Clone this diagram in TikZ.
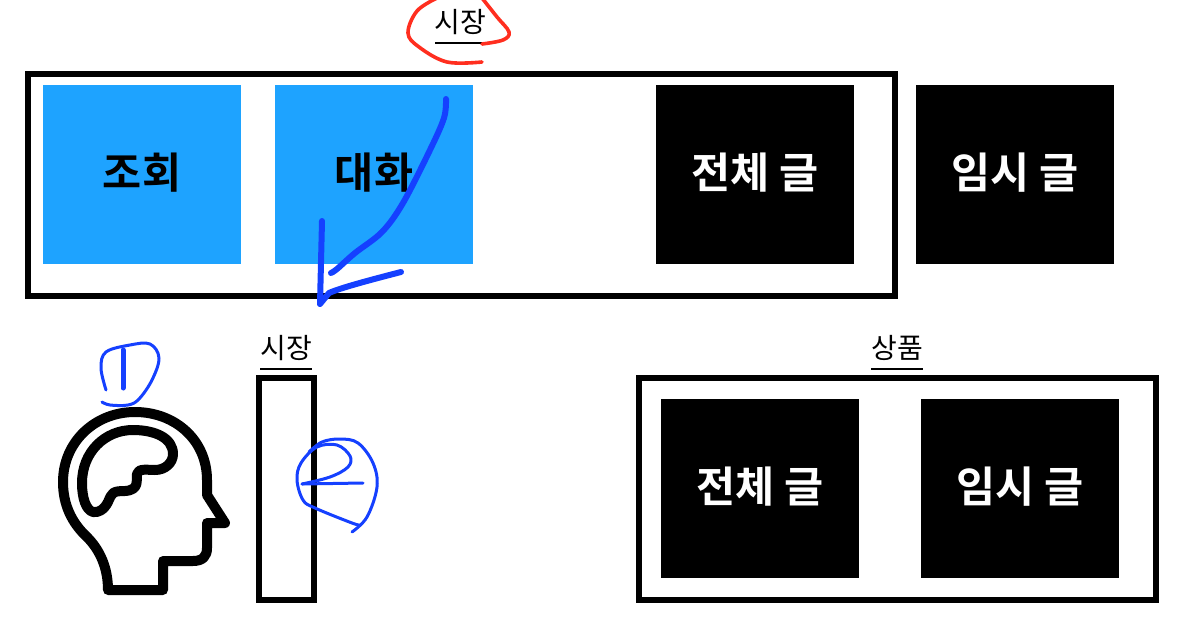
\documentclass[tikz,border=0pt]{standalone}
\usepackage{fontspec}
\newfontfamily\cjk[BoldFont={Noto Sans CJK KR Bold}]{Noto Sans CJK KR}
\definecolor{skyb}{HTML}{1EA3FF}
\definecolor{penblue}{HTML}{1540FF}
\definecolor{penred}{HTML}{FF2E1F}
\tikzset{
  frame/.style={draw=black,line width=6pt,fill=none},
  tile/.style={anchor=north west,inner sep=0pt,outer sep=0pt,minimum width=198pt,minimum height=179pt,align=center,text height=36pt,text depth=9pt},
  bluetile/.style={tile,fill=skyb,text=black},
  blacktile/.style={tile,fill=black,text=white},
  biglabel/.style={font=\cjk\bfseries\fontsize{42.5}{46}\selectfont},
  caption/.style={font=\cjk\fontsize{28}{32}\selectfont,inner sep=0pt,text=black},
  uline/.style={draw=black,line width=2pt},
  penthin/.style={draw=penblue,line width=3pt,line cap=round,line join=round},
  penthick/.style={draw=penblue,line width=6pt,line cap=round,line join=round},
  penr/.style={draw=penred,line width=3.6pt,line cap=round,line join=round},
  headline/.style={draw=black,line width=10pt,line cap=round,line join=round}
}
\begin{document}
\begin{tikzpicture}[x=1pt,y=-1pt]
\useasboundingbox (0,0) rectangle (1188,634);
\clip (0,0) rectangle (1188,634);
% top frame and tiles
\draw[frame] (28,74) rectangle (895,296);
\node[bluetile,biglabel] (jh) at (43,85) {조회};
\node[bluetile,biglabel] (dh) at (275,85) {대화};
\node[blacktile,biglabel] (all1) at (656,85) {전체 글};
\node[blacktile,biglabel] (tmp1) at (916,85) {임시 글};
% captions
\node[caption] (c1) at (460,22) {시장};
\draw[uline] (435,43) -- (486,43);
\node[caption] (c2) at (286,348) {시장};
\draw[uline] (260,369) -- (312,369);
\node[caption] (c3) at (897,348) {상품};
\draw[uline] (871,369) -- (923,369);
% lower frames
\draw[frame] (259,378) rectangle (314,600);
\draw[frame] (639,378) rectangle (1156,600);
\node[blacktile,biglabel] (all2) at (661,399) {전체 글};
\node[blacktile,biglabel] (tmp2) at (921,399) {임시 글};
% head
\draw[headline] (108,590) -- (163,590) -- (163,561) -- (193,561)
  .. controls (203,561) and (207,556) .. (207,548) -- (207,523) -- (225,523) -- (207,495) -- (207,480)
  .. controls (207,440) and (175,412) .. (135,412)
  .. controls (95,412) and (63,442) .. (63,482)
  .. controls (63,505) and (72,523) .. (87,537)
  .. controls (100,550) and (108,568) .. (108,590);
\draw[headline] (82,483)
  .. controls (82,452) and (105,430) .. (133,430)
  .. controls (155,430) and (173,438) .. (173,454)
  .. controls (173,463) and (165,470) .. (155,470)
  .. controls (148,470) and (138,468) .. (137,474)
  .. controls (136,480) and (140,490) .. (125,491)
  .. controls (112,491) and (112,493) .. (108,502)
  .. controls (104,510) and (98,513) .. (93,512)
  .. controls (86,510) and (82,498) .. (82,483);
% blue pen
\draw[penthick] plot[smooth,tension=0.55] coordinates {(446,99) (444,118) (430,150) (403,203) (382,232) (355,253) (337,269) (331,273)};
\draw[penthick] (322,221) -- (320,304) -- (329,293) .. controls (340,288) and (370,280) .. (401,272);
\draw[penthin] plot[smooth,tension=0.6] coordinates {(106,390) (101,368) (106,352) (130,345) (150,344) (159,358) (152,380) (139,399) (128,405) (110,405) (102,402)};
\draw[draw=penblue,line width=5pt,line cap=round] (123,350) -- (123,388);
\draw[penthin] (302,484) -- (363,483);
\draw[penthin] plot[smooth,tension=0.6] coordinates {(302,484) (330,477) (348,467) (350,456) (337,445) (317,447) (301,463) (297,480) (303,500) (315,508) (352,523) (360,525)};
\draw[penthin] plot[smooth,tension=0.6] coordinates {(309,452) (322,442) (340,439) (358,443) (373,463) (377,487) (367,517) (352,532)};
% red pen
\draw[penr] plot[smooth,tension=0.6] coordinates {(482,62) (447,62) (419,47) (408,33) (417,11) (437,-2)};
\draw[penr] plot[smooth,tension=0.6] coordinates {(482,-2) (497,17) (509,32) (503,40) (482,44)};
\end{tikzpicture}
\end{document}
